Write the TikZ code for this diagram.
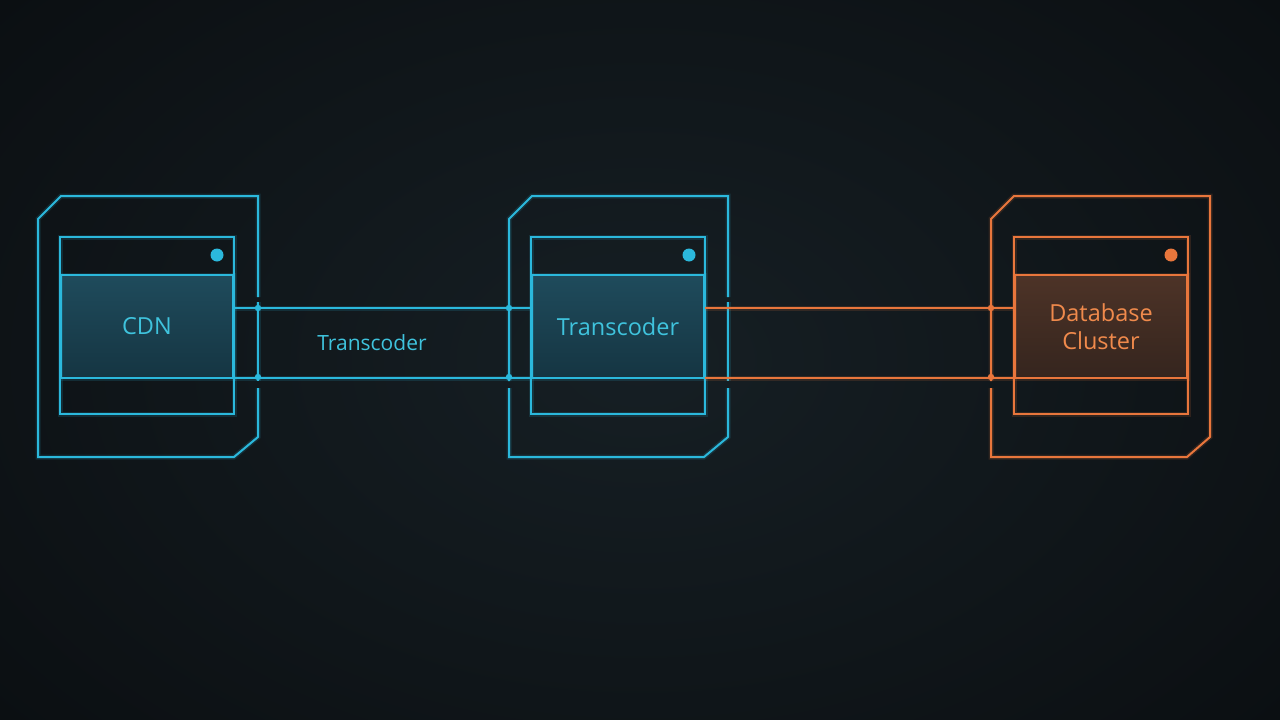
\documentclass[tikz,border=0pt]{standalone}
\usepackage{fontspec}
\setmainfont{Open Sans}
\usetikzlibrary{positioning,calc}

\definecolor{bgdark}{HTML}{0B0F12}
\definecolor{bgmid}{HTML}{161F24}
\definecolor{cyanc}{HTML}{2BB8DC}
\definecolor{cyantext}{HTML}{3FC3DD}
\definecolor{orangec}{HTML}{E8763C}
\definecolor{orangetext}{HTML}{F08A4C}
\definecolor{panelctop}{HTML}{1F4B5C}
\definecolor{panelcbot}{HTML}{153542}
\definecolor{panelotop}{HTML}{4D3327}
\definecolor{panelobot}{HTML}{35251E}

\tikzset{
  cyanline/.style={draw=cyanc, line width=2pt, line join=miter,
    preaction={draw=cyanc, line width=5pt, opacity=0.15}},
  orangeline/.style={draw=orangec, line width=2pt, line join=miter,
    preaction={draw=orangec, line width=5pt, opacity=0.15}},
  cyanpanel/.style={cyanline, minimum width=172pt, minimum height=103pt,
    top color=panelctop, bottom color=panelcbot, text=cyantext,
    font=\fontsize{23.5}{28}\selectfont, align=center, inner sep=0pt},
  orangepanel/.style={orangeline, minimum width=172pt, minimum height=103pt,
    top color=panelotop, bottom color=panelobot, text=orangetext,
    font=\fontsize{23.5}{28}\selectfont, align=center, inner sep=0pt}
}

\begin{document}
\begin{tikzpicture}[x=1pt, y=-1pt]
  \useasboundingbox (0,0) rectangle (1280,720);
  \shade[inner color=bgmid, outer color=bgdark] (-200,-200) rectangle (1480,920);

  % panels
  \node[cyanpanel] (cdn) at (147,326.5) {CDN};
  \node[cyanpanel] (trans) at (618,326.5) {Transcoder};
  \node[orangepanel] (db) at (1101,326.5) {Database\\Cluster};

  % inner frames
  \draw[cyanline] ([yshift=37pt]cdn.north west) rectangle ([yshift=-35pt]cdn.south east);
  \draw[cyanline] ([yshift=37pt]trans.north west) rectangle ([yshift=-35pt]trans.south east);
  \draw[orangeline] ([yshift=37pt]db.north west) rectangle ([yshift=-35pt]db.south east);

  % status dots
  \fill[cyanc] (217,255) circle (6.5);
  \fill[cyanc] (689,255) circle (6.5);
  \fill[orangec] (1171,255) circle (6.5);

  % outer frames
  \draw[cyanline] (258,297) -- (258,196) -- (61,196) -- (38,219) -- (38,457)
    -- (234,457) -- (258,437) -- (258,388);
  \draw[cyanline] (258,302) -- (258,381);
  \draw[cyanline] (728,297) -- (728,196) -- (532,196) -- (509,219) -- (509,381);
  \draw[cyanline] (509,388) -- (509,457) -- (704,457) -- (728,437) -- (728,388);
  \draw[cyanline] (728,302) -- (728,381);
  \draw[orangeline] (991,381) -- (991,219) -- (1014,196) -- (1210,196)
    -- (1210,437) -- (1187,457) -- (991,457) -- (991,388);

  % connectors
  \draw[cyanline] ([yshift=18.5pt]cdn.east) -- ([yshift=18.5pt]trans.west);
  \draw[cyanline] ([yshift=1pt]cdn.south east) -- ([yshift=1pt]trans.south west);
  \draw[orangeline] ([yshift=18.5pt]trans.east) -- ([yshift=18.5pt]db.west);
  \draw[orangeline] ([yshift=1pt]trans.south east) -- ([yshift=1pt]db.south west);

  % crossing dots
  \foreach \x in {258,509} {
    \fill[cyanc] (\x,308) circle (3.2);
    \fill[cyanc] (\x,377) circle (3.2);
  }
  \fill[orangec] (991,308) circle (3.2);
  \fill[orangec] (991,377) circle (3.2);

  \node[text=cyantext, font=\fontsize{21}{24}\selectfont] (translabel) at (372,343) {Transcoder};
\end{tikzpicture}
\end{document}
